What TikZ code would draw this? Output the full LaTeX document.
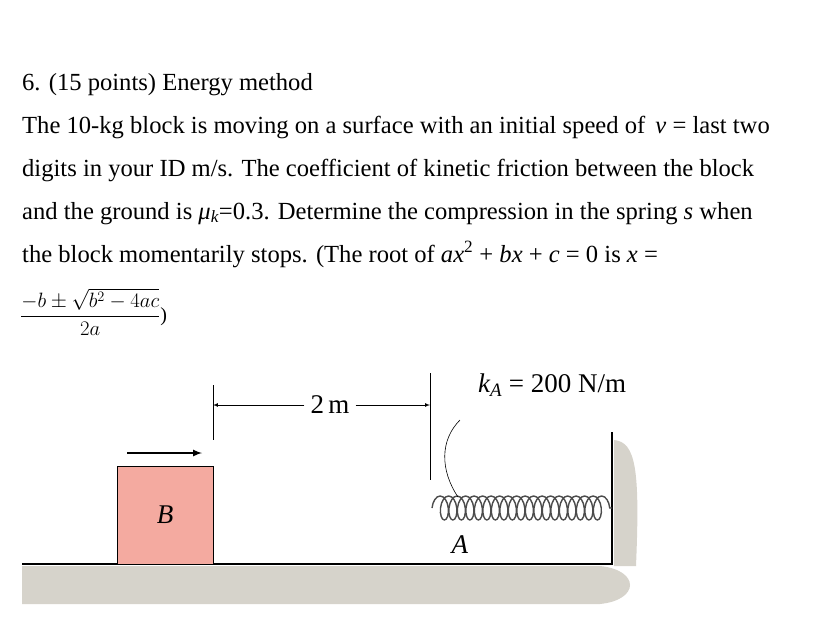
\documentclass[tikz,border=0pt]{standalone}
\usepackage{fontspec}
\setmainfont{Liberation Serif}
\usetikzlibrary{decorations.pathmorphing}
\definecolor{blockpink}{HTML}{F4AAA0}
\definecolor{groundgray}{HTML}{D6D3CB}
\begin{document}
\begin{tikzpicture}[x=1pt,y=-1pt]
\tikzstyle{txt}=[anchor=base west,inner sep=0pt,font=\fontsize{24.6}{24.6}\selectfont]
\tikzstyle{lbl}=[inner sep=0pt,font=\fontsize{27}{27}\selectfont]
\tikzstyle{dim}=[line width=0.7pt]
\useasboundingbox (0,0) rectangle (814,635);

%get text.
\node[txt] (l1) at (22,90)  {6. (15 points) Energy method};
\node[txt] (l2) at (22,133) {The 10-kg block is moving on a surface with an initial speed of \,\textit{v} = last two};
\node[txt] (l3) at (22,176) {digits in your ID m/s. The coefficient of kinetic friction between the block};
\node[txt] (l4) at (22,219) {and the ground is \textit{μ\textsubscript{k}}=0.3. Determine the compression in the spring \textit{s} when};
\node[txt] (l5) at (22,262) {the block momentarily stops. (The root of \textit{ax}\textsuperscript{2} + \textit{bx} + \textit{c} = 0 is \textit{x} =};
\node[txt,anchor=west] (root) at (20,312) {\fontsize{20}{20}\selectfont$\displaystyle\frac{-b\pm\sqrt{b^2-4ac}}{2a}$)};

%get ground and wall.
\fill[groundgray] (22,566) -- (600,566) .. controls (640,570) and (640,600) .. (600,604) -- (22,604) -- cycle;
\fill[groundgray] (614,440) .. controls (636,442) and (640,470) .. (636,566) -- (614,566) -- cycle;
\coordinate (g1) at (22,564);
\coordinate (g2) at (612,564);
\coordinate (w1) at (612,432);
\draw[line width=1.2pt] (g1) -- (g2) -- (w1);

%get block.
\node[draw,fill=blockpink,minimum width=96pt,minimum height=98pt,inner sep=0pt,line width=1pt] (B) at (165,515) {};
\node[lbl] at (B) {\textit{B}};
\coordinate (vs) at (127,453);
\coordinate (ve) at (202,453);
\draw[-latex,line width=2pt] (vs) -- (ve);

%get dimension.
\coordinate (d1a) at (213,385);
\coordinate (d1b) at (213,440);
\coordinate (d2a) at (430,373);
\coordinate (d2b) at (430,480);
\draw[dim] (d1a) -- (d1b);
\draw[dim] (d2a) -- (d2b);
\node[lbl] (dist) at (330,405) {2\,m};
\draw[dim,-latex] (dist.west) ++(-6,0) -- (213,405);
\draw[dim,-latex] (dist.east) ++(6,0) -- (430,405);

%get spring.
\coordinate (sA) at (432,508);
\coordinate (sB) at (612,508);
\draw[line width=1.4pt,gray!60!black,decorate,decoration={coil,segment length=8.5pt,amplitude=12pt}] (sA) -- (sB);
\node[lbl,anchor=west] (kA) at (478,385) {\textit{k\textsubscript{A}} = 200 N/m};
\coordinate (kl) at (460,420);
\coordinate (ke) at (458,497);
\draw[line width=0.6pt] (kl) .. controls (440,440) and (440,470) .. (ke);
\node[lbl] (A) at (460,545) {\textit{A}};
\end{tikzpicture}
\end{document}
